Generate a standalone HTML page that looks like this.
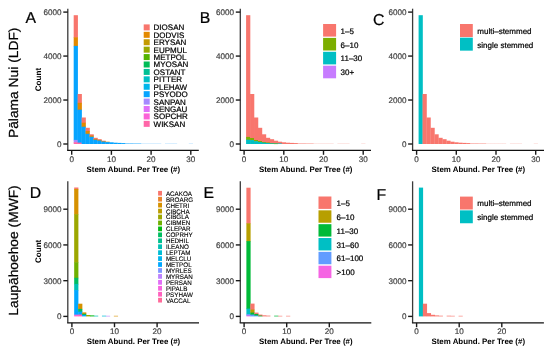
<!DOCTYPE html>
<html><head><meta charset="utf-8"><style>
html,body{margin:0;padding:0;background:#fff;width:550px;height:348px;overflow:hidden}
</style></head><body>
<svg width="550" height="348" viewBox="0 0 550 348" style="display:block;filter:blur(0.35px)" text-rendering="geometricPrecision">
<g font-family='"Liberation Sans", sans-serif'>
<text transform="translate(18.2,82.8) scale(0.955,1) rotate(-90)" font-size="13.8" text-anchor="middle" fill="#000" stroke="#000" stroke-width="0.25">Pālama Nui (LDF)</text>
<text transform="translate(18.2,250.5) scale(0.955,1) rotate(-90)" font-size="13.8" text-anchor="middle" fill="#000" stroke="#000" stroke-width="0.25">Laupāhoehoe (MWF)</text>
<text x="25.60" y="23.10" font-size="15.8" text-anchor="start" font-weight="normal" fill="#000" stroke="#000" stroke-width="0.22" >A</text>
<text x="199.80" y="23.10" font-size="15.8" text-anchor="start" font-weight="normal" fill="#000" stroke="#000" stroke-width="0.22" >B</text>
<text x="372.90" y="24.80" font-size="15.8" text-anchor="start" font-weight="normal" fill="#000" stroke="#000" stroke-width="0.22" >C</text>
<text x="29.80" y="197.80" font-size="15.8" text-anchor="start" font-weight="normal" fill="#000" stroke="#000" stroke-width="0.22" >D</text>
<text x="203.60" y="197.80" font-size="15.8" text-anchor="start" font-weight="normal" fill="#000" stroke="#000" stroke-width="0.22" >E</text>
<text x="376.60" y="199.60" font-size="15.8" text-anchor="start" font-weight="normal" fill="#000" stroke="#000" stroke-width="0.22" >F</text>
<rect x="73.69" y="15.20" width="4.22" height="22.60" fill="#F8766D"/>
<rect x="73.69" y="37.30" width="4.22" height="9.10" fill="#E38900"/>
<rect x="73.69" y="45.90" width="4.22" height="94.50" fill="#06A4FF"/>
<rect x="73.69" y="139.90" width="4.22" height="2.80" fill="#A58AFF"/>
<rect x="73.69" y="142.20" width="4.22" height="1.80" fill="#FF66A8"/>
<rect x="77.66" y="94.00" width="4.22" height="9.30" fill="#F8766D"/>
<rect x="77.66" y="102.80" width="4.22" height="7.40" fill="#E38900"/>
<rect x="77.66" y="109.70" width="4.22" height="33.40" fill="#06A4FF"/>
<rect x="77.66" y="142.60" width="4.22" height="1.40" fill="#FF66A8"/>
<rect x="81.62" y="117.50" width="4.22" height="5.70" fill="#F8766D"/>
<rect x="81.62" y="122.70" width="4.22" height="4.50" fill="#E38900"/>
<rect x="81.62" y="126.70" width="4.22" height="17.30" fill="#06A4FF"/>
<rect x="85.59" y="127.80" width="4.22" height="3.70" fill="#F8766D"/>
<rect x="85.59" y="131.00" width="4.22" height="3.30" fill="#E38900"/>
<rect x="85.59" y="133.80" width="4.22" height="10.20" fill="#06A4FF"/>
<rect x="89.56" y="134.30" width="4.22" height="1.80" fill="#F8766D"/>
<rect x="89.56" y="135.60" width="4.22" height="1.70" fill="#E38900"/>
<rect x="89.56" y="136.80" width="4.22" height="7.20" fill="#06A4FF"/>
<rect x="93.53" y="137.80" width="4.22" height="1.60" fill="#F8766D"/>
<rect x="93.53" y="138.90" width="4.22" height="1.30" fill="#E38900"/>
<rect x="93.53" y="139.70" width="4.22" height="4.30" fill="#06A4FF"/>
<rect x="97.50" y="139.20" width="4.22" height="1.20" fill="#F8766D"/>
<rect x="97.50" y="139.90" width="4.22" height="1.10" fill="#E38900"/>
<rect x="97.50" y="140.50" width="4.22" height="3.50" fill="#06A4FF"/>
<rect x="101.48" y="140.70" width="4.22" height="1.00" fill="#F8766D"/>
<rect x="101.48" y="141.20" width="4.22" height="0.90" fill="#E38900"/>
<rect x="101.48" y="141.60" width="4.22" height="2.40" fill="#06A4FF"/>
<rect x="105.45" y="141.70" width="4.22" height="0.90" fill="#E38900"/>
<rect x="105.45" y="142.10" width="4.22" height="1.90" fill="#06A4FF"/>
<rect x="109.42" y="142.30" width="4.22" height="1.70" fill="#06A4FF"/>
<rect x="113.39" y="142.70" width="4.22" height="1.30" fill="#06A4FF"/>
<rect x="117.36" y="142.90" width="4.22" height="1.10" fill="#06A4FF"/>
<rect x="121.33" y="143.10" width="4.22" height="0.90" fill="#06A4FF"/>
<rect x="125.30" y="143.20" width="4.22" height="0.80" fill="#6CC6FF"/>
<rect x="129.27" y="143.20" width="4.22" height="0.80" fill="#6CC6FF"/>
<rect x="133.24" y="143.30" width="4.22" height="0.70" fill="#6CC6FF"/>
<rect x="137.21" y="143.30" width="4.22" height="0.70" fill="#6CC6FF"/>
<rect x="141.18" y="143.30" width="4.22" height="0.70" fill="#CBE9FF"/>
<rect x="145.15" y="143.30" width="4.22" height="0.70" fill="#CBE9FF"/>
<rect x="149.12" y="143.30" width="4.22" height="0.70" fill="#CBE9FF"/>
<rect x="153.09" y="143.30" width="4.22" height="0.70" fill="#CBE9FF"/>
<rect x="157.06" y="143.30" width="4.22" height="0.70" fill="#CBE9FF"/>
<rect x="165.00" y="143.30" width="4.22" height="0.70" fill="#CBE9FF"/>
<rect x="168.97" y="143.30" width="4.22" height="0.70" fill="#CBE9FF"/>
<rect x="172.94" y="143.30" width="4.22" height="0.70" fill="#CBE9FF"/>
<rect x="188.81" y="143.30" width="4.22" height="0.70" fill="#CBE9FF"/>
<rect x="246.09" y="15.20" width="4.22" height="122.20" fill="#F8766D"/>
<rect x="246.09" y="136.90" width="4.22" height="3.30" fill="#7CAE00"/>
<rect x="246.09" y="139.70" width="4.22" height="4.30" fill="#00BFC4"/>
<rect x="250.06" y="94.00" width="4.22" height="44.50" fill="#F8766D"/>
<rect x="250.06" y="138.00" width="4.22" height="2.60" fill="#7CAE00"/>
<rect x="250.06" y="140.10" width="4.22" height="3.90" fill="#00BFC4"/>
<rect x="254.03" y="117.50" width="4.22" height="23.00" fill="#F8766D"/>
<rect x="254.03" y="140.00" width="4.22" height="1.70" fill="#7CAE00"/>
<rect x="254.03" y="141.20" width="4.22" height="2.80" fill="#00BFC4"/>
<rect x="258.00" y="127.80" width="4.22" height="13.70" fill="#F8766D"/>
<rect x="258.00" y="141.00" width="4.22" height="1.50" fill="#7CAE00"/>
<rect x="258.00" y="142.00" width="4.22" height="2.00" fill="#00BFC4"/>
<rect x="261.96" y="134.30" width="4.22" height="8.20" fill="#F8766D"/>
<rect x="261.96" y="142.00" width="4.22" height="1.10" fill="#7CAE00"/>
<rect x="261.96" y="142.60" width="4.22" height="1.40" fill="#00BFC4"/>
<rect x="265.94" y="137.80" width="4.22" height="5.20" fill="#F8766D"/>
<rect x="265.94" y="142.50" width="4.22" height="1.00" fill="#7CAE00"/>
<rect x="265.94" y="143.00" width="4.22" height="1.00" fill="#00BFC4"/>
<rect x="269.90" y="139.20" width="4.22" height="4.30" fill="#F8766D"/>
<rect x="269.90" y="143.00" width="4.22" height="0.90" fill="#7CAE00"/>
<rect x="269.90" y="143.40" width="4.22" height="0.60" fill="#00BFC4"/>
<rect x="273.88" y="140.70" width="4.22" height="3.00" fill="#F8766D"/>
<rect x="273.88" y="143.20" width="4.22" height="0.90" fill="#7CAE00"/>
<rect x="273.88" y="143.60" width="4.22" height="0.40" fill="#00BFC4"/>
<rect x="277.85" y="141.70" width="4.22" height="2.20" fill="#F8766D"/>
<rect x="277.85" y="143.40" width="4.22" height="0.60" fill="#00BFC4"/>
<rect x="281.81" y="142.30" width="4.22" height="1.70" fill="#F8766D"/>
<rect x="285.78" y="142.70" width="4.22" height="1.30" fill="#F8766D"/>
<rect x="289.75" y="142.90" width="4.22" height="1.10" fill="#F8766D"/>
<rect x="293.73" y="143.10" width="4.22" height="0.90" fill="#F8766D"/>
<rect x="297.69" y="143.20" width="4.22" height="0.80" fill="#FBB0AA"/>
<rect x="301.67" y="143.20" width="4.22" height="0.80" fill="#FBB0AA"/>
<rect x="305.63" y="143.30" width="4.22" height="0.70" fill="#FBB0AA"/>
<rect x="309.61" y="143.30" width="4.22" height="0.70" fill="#FBB0AA"/>
<rect x="313.57" y="143.30" width="4.22" height="0.70" fill="#FDDEDB"/>
<rect x="317.55" y="143.30" width="4.22" height="0.70" fill="#FDDEDB"/>
<rect x="321.51" y="143.30" width="4.22" height="0.70" fill="#FDDEDB"/>
<rect x="325.49" y="143.30" width="4.22" height="0.70" fill="#FDDEDB"/>
<rect x="329.45" y="143.30" width="4.22" height="0.70" fill="#FDDEDB"/>
<rect x="337.39" y="143.30" width="4.22" height="0.70" fill="#FDDEDB"/>
<rect x="341.37" y="143.30" width="4.22" height="0.70" fill="#FDDEDB"/>
<rect x="345.33" y="143.30" width="4.22" height="0.70" fill="#FDDEDB"/>
<rect x="361.22" y="143.30" width="4.22" height="0.70" fill="#FDDEDB"/>
<rect x="418.59" y="15.20" width="4.22" height="128.80" fill="#00BFC4"/>
<rect x="422.56" y="94.00" width="4.22" height="50.00" fill="#F8766D"/>
<rect x="426.53" y="117.50" width="4.22" height="26.50" fill="#F8766D"/>
<rect x="430.50" y="127.80" width="4.22" height="16.20" fill="#F8766D"/>
<rect x="434.47" y="134.30" width="4.22" height="9.70" fill="#F8766D"/>
<rect x="438.44" y="137.80" width="4.22" height="6.20" fill="#F8766D"/>
<rect x="442.41" y="139.20" width="4.22" height="4.80" fill="#F8766D"/>
<rect x="446.38" y="140.70" width="4.22" height="3.30" fill="#F8766D"/>
<rect x="450.35" y="141.70" width="4.22" height="2.30" fill="#F8766D"/>
<rect x="454.32" y="142.30" width="4.22" height="1.70" fill="#F8766D"/>
<rect x="458.29" y="142.70" width="4.22" height="1.30" fill="#F8766D"/>
<rect x="462.25" y="142.90" width="4.22" height="1.10" fill="#F8766D"/>
<rect x="466.23" y="143.10" width="4.22" height="0.90" fill="#F8766D"/>
<rect x="470.20" y="143.20" width="4.22" height="0.80" fill="#FBB0AA"/>
<rect x="474.17" y="143.20" width="4.22" height="0.80" fill="#FBB0AA"/>
<rect x="478.14" y="143.30" width="4.22" height="0.70" fill="#FBB0AA"/>
<rect x="482.11" y="143.30" width="4.22" height="0.70" fill="#FBB0AA"/>
<rect x="486.08" y="143.30" width="4.22" height="0.70" fill="#FDDEDB"/>
<rect x="490.05" y="143.30" width="4.22" height="0.70" fill="#FDDEDB"/>
<rect x="494.02" y="143.30" width="4.22" height="0.70" fill="#FDDEDB"/>
<rect x="497.99" y="143.30" width="4.22" height="0.70" fill="#FDDEDB"/>
<rect x="501.96" y="143.30" width="4.22" height="0.70" fill="#FDDEDB"/>
<rect x="509.90" y="143.30" width="4.22" height="0.70" fill="#FDDEDB"/>
<rect x="513.87" y="143.30" width="4.22" height="0.70" fill="#FDDEDB"/>
<rect x="517.84" y="143.30" width="4.22" height="0.70" fill="#FDDEDB"/>
<rect x="533.72" y="143.30" width="4.22" height="0.70" fill="#FDDEDB"/>
<rect x="74.18" y="187.50" width="4.22" height="2.00" fill="#F8766D"/>
<rect x="74.18" y="189.00" width="4.22" height="25.70" fill="#D69100"/>
<rect x="74.18" y="214.20" width="4.22" height="48.60" fill="#9CA700"/>
<rect x="74.18" y="262.30" width="4.22" height="16.00" fill="#6FB000"/>
<rect x="74.18" y="277.80" width="4.22" height="6.60" fill="#00BD61"/>
<rect x="74.18" y="283.90" width="4.22" height="6.70" fill="#00C0B4"/>
<rect x="74.18" y="290.10" width="4.22" height="25.00" fill="#00A7FF"/>
<rect x="74.18" y="314.60" width="4.22" height="1.20" fill="#E26EF7"/>
<rect x="74.18" y="315.30" width="4.22" height="1.10" fill="#FF62BF"/>
<rect x="78.14" y="303.70" width="4.22" height="5.70" fill="#D69100"/>
<rect x="78.14" y="308.90" width="4.22" height="3.20" fill="#00BD61"/>
<rect x="78.14" y="311.60" width="4.22" height="3.40" fill="#00A7FF"/>
<rect x="78.14" y="314.50" width="4.22" height="1.90" fill="#FF62BF"/>
<rect x="82.11" y="312.40" width="4.22" height="1.90" fill="#D69100"/>
<rect x="82.11" y="313.80" width="4.22" height="1.70" fill="#00BD61"/>
<rect x="82.11" y="315.00" width="4.22" height="1.40" fill="#00A7FF"/>
<rect x="86.08" y="315.00" width="4.22" height="1.40" fill="#9CA700"/>
<rect x="90.04" y="315.40" width="4.22" height="1.00" fill="#00B813"/>
<rect x="94.01" y="315.70" width="4.22" height="0.70" fill="#00C0B4"/>
<rect x="101.94" y="315.70" width="4.22" height="0.70" fill="#00BDD4"/>
<rect x="105.91" y="315.80" width="4.22" height="0.60" fill="#BC81FF"/>
<rect x="113.84" y="315.80" width="4.22" height="0.60" fill="#D69100"/>
<rect x="246.38" y="187.70" width="4.22" height="36.10" fill="#F8766D"/>
<rect x="246.38" y="223.30" width="4.22" height="18.30" fill="#B79F00"/>
<rect x="246.38" y="241.10" width="4.22" height="68.00" fill="#00BA38"/>
<rect x="246.38" y="308.60" width="4.22" height="6.00" fill="#00BFC4"/>
<rect x="246.38" y="314.10" width="4.22" height="1.90" fill="#619CFF"/>
<rect x="246.38" y="315.50" width="4.22" height="0.90" fill="#F564E3"/>
<rect x="250.34" y="303.60" width="4.22" height="6.50" fill="#F8766D"/>
<rect x="250.34" y="309.60" width="4.22" height="3.50" fill="#B79F00"/>
<rect x="250.34" y="312.60" width="4.22" height="2.50" fill="#00BA38"/>
<rect x="250.34" y="314.60" width="4.22" height="1.80" fill="#619CFF"/>
<rect x="254.31" y="312.60" width="4.22" height="1.90" fill="#F8766D"/>
<rect x="254.31" y="314.00" width="4.22" height="2.00" fill="#00BA38"/>
<rect x="254.31" y="315.50" width="4.22" height="0.90" fill="#619CFF"/>
<rect x="258.28" y="314.60" width="4.22" height="1.50" fill="#F8766D"/>
<rect x="258.28" y="315.60" width="4.22" height="0.80" fill="#00BA38"/>
<rect x="262.24" y="315.30" width="4.22" height="1.10" fill="#F8766D"/>
<rect x="266.21" y="315.60" width="4.22" height="0.80" fill="#F8766D"/>
<rect x="274.14" y="315.70" width="4.22" height="0.70" fill="#00BA38"/>
<rect x="278.11" y="315.80" width="4.22" height="0.60" fill="#F8766D"/>
<rect x="286.04" y="315.80" width="4.22" height="0.60" fill="#F8766D"/>
<rect x="418.88" y="187.60" width="4.22" height="128.80" fill="#00BFC4"/>
<rect x="422.84" y="303.70" width="4.22" height="12.70" fill="#F8766D"/>
<rect x="426.81" y="313.10" width="4.22" height="3.30" fill="#F8766D"/>
<rect x="430.78" y="314.80" width="4.22" height="1.60" fill="#F8766D"/>
<rect x="434.74" y="315.40" width="4.22" height="1.00" fill="#F8766D"/>
<rect x="438.71" y="315.70" width="4.22" height="0.70" fill="#F8766D"/>
<rect x="446.64" y="315.70" width="4.22" height="0.70" fill="#F8766D"/>
<rect x="450.61" y="315.80" width="4.22" height="0.60" fill="#F8766D"/>
<rect x="458.54" y="315.80" width="4.22" height="0.60" fill="#F8766D"/>
<line x1="67.80" y1="8.70" x2="67.80" y2="150.40" stroke="#3a3a3a" stroke-width="1.3"/>
<line x1="67.15" y1="150.40" x2="198.80" y2="150.40" stroke="#111" stroke-width="1.2"/>
<line x1="63.30" y1="144.00" x2="67.80" y2="144.00" stroke="#1a1a1a" stroke-width="1.4"/>
<text x="61.60" y="146.85" font-size="8.1" text-anchor="end" font-weight="normal" fill="#404040" stroke="#404040" stroke-width="0.18" >0</text>
<line x1="63.30" y1="100.03" x2="67.80" y2="100.03" stroke="#1a1a1a" stroke-width="1.4"/>
<text x="61.60" y="102.88" font-size="8.1" text-anchor="end" font-weight="normal" fill="#404040" stroke="#404040" stroke-width="0.18" >2000</text>
<line x1="63.30" y1="56.07" x2="67.80" y2="56.07" stroke="#1a1a1a" stroke-width="1.4"/>
<text x="61.60" y="58.92" font-size="8.1" text-anchor="end" font-weight="normal" fill="#404040" stroke="#404040" stroke-width="0.18" >4000</text>
<line x1="63.30" y1="12.10" x2="67.80" y2="12.10" stroke="#1a1a1a" stroke-width="1.4"/>
<text x="61.60" y="14.95" font-size="8.1" text-anchor="end" font-weight="normal" fill="#404040" stroke="#404040" stroke-width="0.18" >6000</text>
<line x1="71.70" y1="150.40" x2="71.70" y2="154.80" stroke="#1a1a1a" stroke-width="1.4"/>
<text x="71.70" y="162.30" font-size="8.1" text-anchor="middle" font-weight="normal" fill="#404040" stroke="#404040" stroke-width="0.18" >0</text>
<line x1="111.40" y1="150.40" x2="111.40" y2="154.80" stroke="#1a1a1a" stroke-width="1.4"/>
<text x="111.40" y="162.30" font-size="8.1" text-anchor="middle" font-weight="normal" fill="#404040" stroke="#404040" stroke-width="0.18" >10</text>
<line x1="151.10" y1="150.40" x2="151.10" y2="154.80" stroke="#1a1a1a" stroke-width="1.4"/>
<text x="151.10" y="162.30" font-size="8.1" text-anchor="middle" font-weight="normal" fill="#404040" stroke="#404040" stroke-width="0.18" >20</text>
<line x1="190.80" y1="150.40" x2="190.80" y2="154.80" stroke="#1a1a1a" stroke-width="1.4"/>
<text x="190.80" y="162.30" font-size="8.1" text-anchor="middle" font-weight="normal" fill="#404040" stroke="#404040" stroke-width="0.18" >30</text>
<text x="133.30" y="171.50" font-size="7.9" text-anchor="middle" font-weight="bold" fill="#000" >Stem Abund. Per Tree (#)</text>
<text transform="translate(41.20,79.55) rotate(-90)" font-size="8.1" font-weight="bold" text-anchor="middle" fill="#000">Count</text>
<line x1="240.30" y1="8.70" x2="240.30" y2="150.40" stroke="#3a3a3a" stroke-width="1.3"/>
<line x1="239.65" y1="150.40" x2="371.00" y2="150.40" stroke="#111" stroke-width="1.2"/>
<line x1="235.80" y1="144.00" x2="240.30" y2="144.00" stroke="#1a1a1a" stroke-width="1.4"/>
<text x="234.10" y="146.85" font-size="8.1" text-anchor="end" font-weight="normal" fill="#404040" stroke="#404040" stroke-width="0.18" >0</text>
<line x1="235.80" y1="100.03" x2="240.30" y2="100.03" stroke="#1a1a1a" stroke-width="1.4"/>
<text x="234.10" y="102.88" font-size="8.1" text-anchor="end" font-weight="normal" fill="#404040" stroke="#404040" stroke-width="0.18" >2000</text>
<line x1="235.80" y1="56.07" x2="240.30" y2="56.07" stroke="#1a1a1a" stroke-width="1.4"/>
<text x="234.10" y="58.92" font-size="8.1" text-anchor="end" font-weight="normal" fill="#404040" stroke="#404040" stroke-width="0.18" >4000</text>
<line x1="235.80" y1="12.10" x2="240.30" y2="12.10" stroke="#1a1a1a" stroke-width="1.4"/>
<text x="234.10" y="14.95" font-size="8.1" text-anchor="end" font-weight="normal" fill="#404040" stroke="#404040" stroke-width="0.18" >6000</text>
<line x1="244.10" y1="150.40" x2="244.10" y2="154.80" stroke="#1a1a1a" stroke-width="1.4"/>
<text x="244.10" y="162.30" font-size="8.1" text-anchor="middle" font-weight="normal" fill="#404040" stroke="#404040" stroke-width="0.18" >0</text>
<line x1="283.80" y1="150.40" x2="283.80" y2="154.80" stroke="#1a1a1a" stroke-width="1.4"/>
<text x="283.80" y="162.30" font-size="8.1" text-anchor="middle" font-weight="normal" fill="#404040" stroke="#404040" stroke-width="0.18" >10</text>
<line x1="323.50" y1="150.40" x2="323.50" y2="154.80" stroke="#1a1a1a" stroke-width="1.4"/>
<text x="323.50" y="162.30" font-size="8.1" text-anchor="middle" font-weight="normal" fill="#404040" stroke="#404040" stroke-width="0.18" >20</text>
<line x1="363.20" y1="150.40" x2="363.20" y2="154.80" stroke="#1a1a1a" stroke-width="1.4"/>
<text x="363.20" y="162.30" font-size="8.1" text-anchor="middle" font-weight="normal" fill="#404040" stroke="#404040" stroke-width="0.18" >30</text>
<text x="305.65" y="171.50" font-size="7.9" text-anchor="middle" font-weight="bold" fill="#000" >Stem Abund. Per Tree (#)</text>
<line x1="412.60" y1="8.70" x2="412.60" y2="150.40" stroke="#3a3a3a" stroke-width="1.3"/>
<line x1="411.95" y1="150.40" x2="544.00" y2="150.40" stroke="#111" stroke-width="1.2"/>
<line x1="408.10" y1="144.00" x2="412.60" y2="144.00" stroke="#1a1a1a" stroke-width="1.4"/>
<text x="406.40" y="146.85" font-size="8.1" text-anchor="end" font-weight="normal" fill="#404040" stroke="#404040" stroke-width="0.18" >0</text>
<line x1="408.10" y1="100.03" x2="412.60" y2="100.03" stroke="#1a1a1a" stroke-width="1.4"/>
<text x="406.40" y="102.88" font-size="8.1" text-anchor="end" font-weight="normal" fill="#404040" stroke="#404040" stroke-width="0.18" >2000</text>
<line x1="408.10" y1="56.07" x2="412.60" y2="56.07" stroke="#1a1a1a" stroke-width="1.4"/>
<text x="406.40" y="58.92" font-size="8.1" text-anchor="end" font-weight="normal" fill="#404040" stroke="#404040" stroke-width="0.18" >4000</text>
<line x1="408.10" y1="12.10" x2="412.60" y2="12.10" stroke="#1a1a1a" stroke-width="1.4"/>
<text x="406.40" y="14.95" font-size="8.1" text-anchor="end" font-weight="normal" fill="#404040" stroke="#404040" stroke-width="0.18" >6000</text>
<line x1="416.60" y1="150.40" x2="416.60" y2="154.80" stroke="#1a1a1a" stroke-width="1.4"/>
<text x="416.60" y="162.30" font-size="8.1" text-anchor="middle" font-weight="normal" fill="#404040" stroke="#404040" stroke-width="0.18" >0</text>
<line x1="456.30" y1="150.40" x2="456.30" y2="154.80" stroke="#1a1a1a" stroke-width="1.4"/>
<text x="456.30" y="162.30" font-size="8.1" text-anchor="middle" font-weight="normal" fill="#404040" stroke="#404040" stroke-width="0.18" >10</text>
<line x1="496.00" y1="150.40" x2="496.00" y2="154.80" stroke="#1a1a1a" stroke-width="1.4"/>
<text x="496.00" y="162.30" font-size="8.1" text-anchor="middle" font-weight="normal" fill="#404040" stroke="#404040" stroke-width="0.18" >20</text>
<line x1="535.70" y1="150.40" x2="535.70" y2="154.80" stroke="#1a1a1a" stroke-width="1.4"/>
<text x="535.70" y="162.30" font-size="8.1" text-anchor="middle" font-weight="normal" fill="#404040" stroke="#404040" stroke-width="0.18" >30</text>
<text x="478.30" y="171.50" font-size="7.9" text-anchor="middle" font-weight="bold" fill="#000" >Stem Abund. Per Tree (#)</text>
<line x1="67.80" y1="181.30" x2="67.80" y2="322.80" stroke="#3a3a3a" stroke-width="1.3"/>
<line x1="67.15" y1="322.80" x2="199.00" y2="322.80" stroke="#111" stroke-width="1.2"/>
<line x1="63.30" y1="316.40" x2="67.80" y2="316.40" stroke="#1a1a1a" stroke-width="1.4"/>
<text x="61.60" y="319.25" font-size="8.1" text-anchor="end" font-weight="normal" fill="#404040" stroke="#404040" stroke-width="0.18" >0</text>
<line x1="63.30" y1="280.67" x2="67.80" y2="280.67" stroke="#1a1a1a" stroke-width="1.4"/>
<text x="61.60" y="283.52" font-size="8.1" text-anchor="end" font-weight="normal" fill="#404040" stroke="#404040" stroke-width="0.18" >3000</text>
<line x1="63.30" y1="244.93" x2="67.80" y2="244.93" stroke="#1a1a1a" stroke-width="1.4"/>
<text x="61.60" y="247.78" font-size="8.1" text-anchor="end" font-weight="normal" fill="#404040" stroke="#404040" stroke-width="0.18" >6000</text>
<line x1="63.30" y1="209.20" x2="67.80" y2="209.20" stroke="#1a1a1a" stroke-width="1.4"/>
<text x="61.60" y="212.05" font-size="8.1" text-anchor="end" font-weight="normal" fill="#404040" stroke="#404040" stroke-width="0.18" >9000</text>
<line x1="71.90" y1="322.80" x2="71.90" y2="327.20" stroke="#1a1a1a" stroke-width="1.4"/>
<text x="71.90" y="334.40" font-size="8.1" text-anchor="middle" font-weight="normal" fill="#404040" stroke="#404040" stroke-width="0.18" >0</text>
<line x1="114.50" y1="322.80" x2="114.50" y2="327.20" stroke="#1a1a1a" stroke-width="1.4"/>
<text x="114.50" y="334.40" font-size="8.1" text-anchor="middle" font-weight="normal" fill="#404040" stroke="#404040" stroke-width="0.18" >10</text>
<line x1="157.10" y1="322.80" x2="157.10" y2="327.20" stroke="#1a1a1a" stroke-width="1.4"/>
<text x="157.10" y="334.40" font-size="8.1" text-anchor="middle" font-weight="normal" fill="#404040" stroke="#404040" stroke-width="0.18" >20</text>
<text x="133.40" y="343.60" font-size="7.9" text-anchor="middle" font-weight="bold" fill="#000" >Stem Abund. Per Tree (#)</text>
<text transform="translate(40.60,251.40) rotate(-90)" font-size="8.1" font-weight="bold" text-anchor="middle" fill="#000">Count</text>
<line x1="240.30" y1="181.30" x2="240.30" y2="322.80" stroke="#3a3a3a" stroke-width="1.3"/>
<line x1="239.65" y1="322.80" x2="371.30" y2="322.80" stroke="#111" stroke-width="1.2"/>
<line x1="235.80" y1="316.40" x2="240.30" y2="316.40" stroke="#1a1a1a" stroke-width="1.4"/>
<text x="234.10" y="319.25" font-size="8.1" text-anchor="end" font-weight="normal" fill="#404040" stroke="#404040" stroke-width="0.18" >0</text>
<line x1="235.80" y1="280.67" x2="240.30" y2="280.67" stroke="#1a1a1a" stroke-width="1.4"/>
<text x="234.10" y="283.52" font-size="8.1" text-anchor="end" font-weight="normal" fill="#404040" stroke="#404040" stroke-width="0.18" >3000</text>
<line x1="235.80" y1="244.93" x2="240.30" y2="244.93" stroke="#1a1a1a" stroke-width="1.4"/>
<text x="234.10" y="247.78" font-size="8.1" text-anchor="end" font-weight="normal" fill="#404040" stroke="#404040" stroke-width="0.18" >6000</text>
<line x1="235.80" y1="209.20" x2="240.30" y2="209.20" stroke="#1a1a1a" stroke-width="1.4"/>
<text x="234.10" y="212.05" font-size="8.1" text-anchor="end" font-weight="normal" fill="#404040" stroke="#404040" stroke-width="0.18" >9000</text>
<line x1="244.10" y1="322.80" x2="244.10" y2="327.20" stroke="#1a1a1a" stroke-width="1.4"/>
<text x="244.10" y="334.40" font-size="8.1" text-anchor="middle" font-weight="normal" fill="#404040" stroke="#404040" stroke-width="0.18" >0</text>
<line x1="286.70" y1="322.80" x2="286.70" y2="327.20" stroke="#1a1a1a" stroke-width="1.4"/>
<text x="286.70" y="334.40" font-size="8.1" text-anchor="middle" font-weight="normal" fill="#404040" stroke="#404040" stroke-width="0.18" >10</text>
<line x1="329.30" y1="322.80" x2="329.30" y2="327.20" stroke="#1a1a1a" stroke-width="1.4"/>
<text x="329.30" y="334.40" font-size="8.1" text-anchor="middle" font-weight="normal" fill="#404040" stroke="#404040" stroke-width="0.18" >20</text>
<text x="305.80" y="343.60" font-size="7.9" text-anchor="middle" font-weight="bold" fill="#000" >Stem Abund. Per Tree (#)</text>
<line x1="412.60" y1="181.30" x2="412.60" y2="322.80" stroke="#3a3a3a" stroke-width="1.3"/>
<line x1="411.95" y1="322.80" x2="543.90" y2="322.80" stroke="#111" stroke-width="1.2"/>
<line x1="408.10" y1="316.40" x2="412.60" y2="316.40" stroke="#1a1a1a" stroke-width="1.4"/>
<text x="406.40" y="319.25" font-size="8.1" text-anchor="end" font-weight="normal" fill="#404040" stroke="#404040" stroke-width="0.18" >0</text>
<line x1="408.10" y1="280.67" x2="412.60" y2="280.67" stroke="#1a1a1a" stroke-width="1.4"/>
<text x="406.40" y="283.52" font-size="8.1" text-anchor="end" font-weight="normal" fill="#404040" stroke="#404040" stroke-width="0.18" >3000</text>
<line x1="408.10" y1="244.93" x2="412.60" y2="244.93" stroke="#1a1a1a" stroke-width="1.4"/>
<text x="406.40" y="247.78" font-size="8.1" text-anchor="end" font-weight="normal" fill="#404040" stroke="#404040" stroke-width="0.18" >6000</text>
<line x1="408.10" y1="209.20" x2="412.60" y2="209.20" stroke="#1a1a1a" stroke-width="1.4"/>
<text x="406.40" y="212.05" font-size="8.1" text-anchor="end" font-weight="normal" fill="#404040" stroke="#404040" stroke-width="0.18" >9000</text>
<line x1="416.60" y1="322.80" x2="416.60" y2="327.20" stroke="#1a1a1a" stroke-width="1.4"/>
<text x="416.60" y="334.40" font-size="8.1" text-anchor="middle" font-weight="normal" fill="#404040" stroke="#404040" stroke-width="0.18" >0</text>
<line x1="459.20" y1="322.80" x2="459.20" y2="327.20" stroke="#1a1a1a" stroke-width="1.4"/>
<text x="459.20" y="334.40" font-size="8.1" text-anchor="middle" font-weight="normal" fill="#404040" stroke="#404040" stroke-width="0.18" >10</text>
<line x1="501.80" y1="322.80" x2="501.80" y2="327.20" stroke="#1a1a1a" stroke-width="1.4"/>
<text x="501.80" y="334.40" font-size="8.1" text-anchor="middle" font-weight="normal" fill="#404040" stroke="#404040" stroke-width="0.18" >20</text>
<text x="478.25" y="343.60" font-size="7.9" text-anchor="middle" font-weight="bold" fill="#000" >Stem Abund. Per Tree (#)</text>
<rect x="143.70" y="24.40" width="6.00" height="6.00" fill="#F8766D"/>
<rect x="143.70" y="31.82" width="6.00" height="6.00" fill="#E38900"/>
<rect x="143.70" y="39.24" width="6.00" height="6.00" fill="#C49A00"/>
<rect x="143.70" y="46.66" width="6.00" height="6.00" fill="#99A800"/>
<rect x="143.70" y="54.08" width="6.00" height="6.00" fill="#53B400"/>
<rect x="143.70" y="61.50" width="6.00" height="6.00" fill="#00BC56"/>
<rect x="143.70" y="68.92" width="6.00" height="6.00" fill="#00C094"/>
<rect x="143.70" y="76.34" width="6.00" height="6.00" fill="#00BFC4"/>
<rect x="143.70" y="83.76" width="6.00" height="6.00" fill="#00B6EB"/>
<rect x="143.70" y="91.18" width="6.00" height="6.00" fill="#06A4FF"/>
<rect x="143.70" y="98.60" width="6.00" height="6.00" fill="#A58AFF"/>
<rect x="143.70" y="106.02" width="6.00" height="6.00" fill="#DF70F8"/>
<rect x="143.70" y="113.44" width="6.00" height="6.00" fill="#FB61D7"/>
<rect x="143.70" y="120.86" width="6.00" height="6.00" fill="#FF66A8"/>
<text x="153.60" y="30.38" font-size="8" text-anchor="start" font-weight="normal" fill="#000" stroke="#000" stroke-width="0.22" >DIOSAN</text>
<text x="153.60" y="37.80" font-size="8" text-anchor="start" font-weight="normal" fill="#000" stroke="#000" stroke-width="0.22" >DODVIS</text>
<text x="153.60" y="45.22" font-size="8" text-anchor="start" font-weight="normal" fill="#000" stroke="#000" stroke-width="0.22" >ERYSAN</text>
<text x="153.60" y="52.64" font-size="8" text-anchor="start" font-weight="normal" fill="#000" stroke="#000" stroke-width="0.22" >EUPMUL</text>
<text x="153.60" y="60.06" font-size="8" text-anchor="start" font-weight="normal" fill="#000" stroke="#000" stroke-width="0.22" >METPOL</text>
<text x="153.60" y="67.48" font-size="8" text-anchor="start" font-weight="normal" fill="#000" stroke="#000" stroke-width="0.22" >MYOSAN</text>
<text x="153.60" y="74.90" font-size="8" text-anchor="start" font-weight="normal" fill="#000" stroke="#000" stroke-width="0.22" >OSTANT</text>
<text x="153.60" y="82.32" font-size="8" text-anchor="start" font-weight="normal" fill="#000" stroke="#000" stroke-width="0.22" >PITTER</text>
<text x="153.60" y="89.74" font-size="8" text-anchor="start" font-weight="normal" fill="#000" stroke="#000" stroke-width="0.22" >PLEHAW</text>
<text x="153.60" y="97.16" font-size="8" text-anchor="start" font-weight="normal" fill="#000" stroke="#000" stroke-width="0.22" >PSYODO</text>
<text x="153.60" y="104.58" font-size="8" text-anchor="start" font-weight="normal" fill="#000" stroke="#000" stroke-width="0.22" >SANPAN</text>
<text x="153.60" y="112.00" font-size="8" text-anchor="start" font-weight="normal" fill="#000" stroke="#000" stroke-width="0.22" >SENGAU</text>
<text x="153.60" y="119.42" font-size="8" text-anchor="start" font-weight="normal" fill="#000" stroke="#000" stroke-width="0.22" >SOPCHR</text>
<text x="153.60" y="126.84" font-size="8" text-anchor="start" font-weight="normal" fill="#000" stroke="#000" stroke-width="0.22" >WIKSAN</text>
<rect x="323.10" y="24.00" width="13.00" height="12.60" fill="#F8766D"/>
<rect x="323.10" y="37.90" width="13.00" height="12.60" fill="#7CAE00"/>
<rect x="323.10" y="51.80" width="13.00" height="12.60" fill="#00BFC4"/>
<rect x="323.10" y="65.70" width="13.00" height="12.60" fill="#C77CFF"/>
<text x="340.60" y="33.68" font-size="8" text-anchor="start" font-weight="normal" fill="#000" stroke="#000" stroke-width="0.22" >1–5</text>
<text x="340.60" y="47.58" font-size="8" text-anchor="start" font-weight="normal" fill="#000" stroke="#000" stroke-width="0.22" >6–10</text>
<text x="340.60" y="61.48" font-size="8" text-anchor="start" font-weight="normal" fill="#000" stroke="#000" stroke-width="0.22" >11–30</text>
<text x="340.60" y="75.38" font-size="8" text-anchor="start" font-weight="normal" fill="#000" stroke="#000" stroke-width="0.22" >30+</text>
<rect x="460.00" y="24.00" width="12.80" height="13.00" fill="#F8766D"/>
<rect x="460.00" y="37.65" width="12.80" height="13.00" fill="#00BFC4"/>
<text x="477.30" y="33.88" font-size="8" text-anchor="start" font-weight="normal" fill="#000" stroke="#000" stroke-width="0.22" >multi–stemmed</text>
<text x="477.30" y="47.53" font-size="8" text-anchor="start" font-weight="normal" fill="#000" stroke="#000" stroke-width="0.22" >single stemmed</text>
<rect x="158.10" y="190.90" width="3.90" height="4.70" fill="#F8766D"/>
<rect x="158.10" y="196.84" width="3.90" height="4.70" fill="#E9842C"/>
<rect x="158.10" y="202.78" width="3.90" height="4.70" fill="#D69100"/>
<rect x="158.10" y="208.72" width="3.90" height="4.70" fill="#BC9D00"/>
<rect x="158.10" y="214.66" width="3.90" height="4.70" fill="#9CA700"/>
<rect x="158.10" y="220.60" width="3.90" height="4.70" fill="#6FB000"/>
<rect x="158.10" y="226.54" width="3.90" height="4.70" fill="#00B813"/>
<rect x="158.10" y="232.48" width="3.90" height="4.70" fill="#00BD61"/>
<rect x="158.10" y="238.42" width="3.90" height="4.70" fill="#00C08E"/>
<rect x="158.10" y="244.36" width="3.90" height="4.70" fill="#00C0B4"/>
<rect x="158.10" y="250.30" width="3.90" height="4.70" fill="#00BDD4"/>
<rect x="158.10" y="256.24" width="3.90" height="4.70" fill="#00B5EE"/>
<rect x="158.10" y="262.18" width="3.90" height="4.70" fill="#00A7FF"/>
<rect x="158.10" y="268.12" width="3.90" height="4.70" fill="#7F96FF"/>
<rect x="158.10" y="274.06" width="3.90" height="4.70" fill="#BC81FF"/>
<rect x="158.10" y="280.00" width="3.90" height="4.70" fill="#E26EF7"/>
<rect x="158.10" y="285.94" width="3.90" height="4.70" fill="#F863DF"/>
<rect x="158.10" y="291.88" width="3.90" height="4.70" fill="#FF62BF"/>
<rect x="158.10" y="297.82" width="3.90" height="4.70" fill="#FF6A9A"/>
<g transform="translate(165.90,0) scale(0.95,1) translate(-165.90,0)">
<text x="165.90" y="195.73" font-size="6.6" text-anchor="start" font-weight="normal" fill="#000" stroke="#000" stroke-width="0.12" >ACAKOA</text>
<text x="165.90" y="201.67" font-size="6.6" text-anchor="start" font-weight="normal" fill="#000" stroke="#000" stroke-width="0.12" >BROARG</text>
<text x="165.90" y="207.61" font-size="6.6" text-anchor="start" font-weight="normal" fill="#000" stroke="#000" stroke-width="0.12" >CHETRI</text>
<text x="165.90" y="213.55" font-size="6.6" text-anchor="start" font-weight="normal" fill="#000" stroke="#000" stroke-width="0.12" >CIBCHA</text>
<text x="165.90" y="219.49" font-size="6.6" text-anchor="start" font-weight="normal" fill="#000" stroke="#000" stroke-width="0.12" >CIBGLA</text>
<text x="165.90" y="225.43" font-size="6.6" text-anchor="start" font-weight="normal" fill="#000" stroke="#000" stroke-width="0.12" >CIBMEN</text>
<text x="165.90" y="231.37" font-size="6.6" text-anchor="start" font-weight="normal" fill="#000" stroke="#000" stroke-width="0.12" >CLEPAR</text>
<text x="165.90" y="237.31" font-size="6.6" text-anchor="start" font-weight="normal" fill="#000" stroke="#000" stroke-width="0.12" >COPRHY</text>
<text x="165.90" y="243.25" font-size="6.6" text-anchor="start" font-weight="normal" fill="#000" stroke="#000" stroke-width="0.12" >HEDHIL</text>
<text x="165.90" y="249.19" font-size="6.6" text-anchor="start" font-weight="normal" fill="#000" stroke="#000" stroke-width="0.12" >ILEANO</text>
<text x="165.90" y="255.13" font-size="6.6" text-anchor="start" font-weight="normal" fill="#000" stroke="#000" stroke-width="0.12" >LEPTAM</text>
<text x="165.90" y="261.07" font-size="6.6" text-anchor="start" font-weight="normal" fill="#000" stroke="#000" stroke-width="0.12" >MELCLU</text>
<text x="165.90" y="267.01" font-size="6.6" text-anchor="start" font-weight="normal" fill="#000" stroke="#000" stroke-width="0.12" >METPOL</text>
<text x="165.90" y="272.95" font-size="6.6" text-anchor="start" font-weight="normal" fill="#000" stroke="#000" stroke-width="0.12" >MYRLES</text>
<text x="165.90" y="278.89" font-size="6.6" text-anchor="start" font-weight="normal" fill="#000" stroke="#000" stroke-width="0.12" >MYRSAN</text>
<text x="165.90" y="284.83" font-size="6.6" text-anchor="start" font-weight="normal" fill="#000" stroke="#000" stroke-width="0.12" >PERSAN</text>
<text x="165.90" y="290.77" font-size="6.6" text-anchor="start" font-weight="normal" fill="#000" stroke="#000" stroke-width="0.12" >PIPALB</text>
<text x="165.90" y="296.71" font-size="6.6" text-anchor="start" font-weight="normal" fill="#000" stroke="#000" stroke-width="0.12" >PSYHAW</text>
<text x="165.90" y="302.65" font-size="6.6" text-anchor="start" font-weight="normal" fill="#000" stroke="#000" stroke-width="0.12" >VACCAL</text>
</g>
<rect x="318.50" y="196.50" width="12.90" height="12.40" fill="#F8766D"/>
<rect x="318.50" y="210.34" width="12.90" height="12.40" fill="#B79F00"/>
<rect x="318.50" y="224.18" width="12.90" height="12.40" fill="#00BA38"/>
<rect x="318.50" y="238.02" width="12.90" height="12.40" fill="#00BFC4"/>
<rect x="318.50" y="251.86" width="12.90" height="12.40" fill="#619CFF"/>
<rect x="318.50" y="265.70" width="12.90" height="12.40" fill="#F564E3"/>
<text x="336.60" y="206.08" font-size="8" text-anchor="start" font-weight="normal" fill="#000" stroke="#000" stroke-width="0.22" >1–5</text>
<text x="336.60" y="219.92" font-size="8" text-anchor="start" font-weight="normal" fill="#000" stroke="#000" stroke-width="0.22" >6–10</text>
<text x="336.60" y="233.76" font-size="8" text-anchor="start" font-weight="normal" fill="#000" stroke="#000" stroke-width="0.22" >11–30</text>
<text x="336.60" y="247.60" font-size="8" text-anchor="start" font-weight="normal" fill="#000" stroke="#000" stroke-width="0.22" >31–60</text>
<text x="336.60" y="261.44" font-size="8" text-anchor="start" font-weight="normal" fill="#000" stroke="#000" stroke-width="0.22" >61–100</text>
<text x="336.60" y="275.28" font-size="8" text-anchor="start" font-weight="normal" fill="#000" stroke="#000" stroke-width="0.22" >&gt;100</text>
<rect x="460.00" y="196.60" width="12.80" height="12.90" fill="#F8766D"/>
<rect x="460.00" y="210.35" width="12.80" height="12.90" fill="#00BFC4"/>
<text x="477.30" y="206.43" font-size="8" text-anchor="start" font-weight="normal" fill="#000" stroke="#000" stroke-width="0.22" >multi–stemmed</text>
<text x="477.30" y="220.18" font-size="8" text-anchor="start" font-weight="normal" fill="#000" stroke="#000" stroke-width="0.22" >single stemmed</text>
</g></svg>
</body></html>
